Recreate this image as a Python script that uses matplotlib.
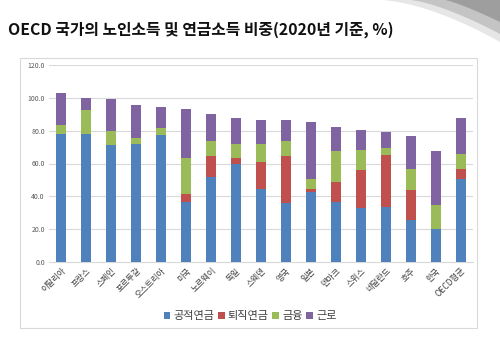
import matplotlib
matplotlib.use("Agg")
import matplotlib.pyplot as plt
from matplotlib.patches import Rectangle, Polygon
import numpy as np

plt.rcParams['font.family'] = ['Noto Sans CJK KR', 'DejaVu Sans']

countries = ['이탈리아', '프랑스', '스페인', '포르투갈', '오스트리아', '미국', '노르웨이', '독일',
             '스웨덴', '영국', '일본', '덴마크', '스위스', '네덜란드', '호주', '한국', 'OECD평균']
public_pension = [78.0, 77.8, 71.1, 71.7, 77.6, 36.5, 52.0, 59.5, 44.5, 36.1, 42.8, 36.5, 32.9, 33.7, 25.4, 20.3, 50.4]
private_pension = [0.0, 0.0, 0.0, 0.0, 0.0, 5.1, 12.8, 4.1, 16.4, 28.3, 1.7, 12.4, 22.9, 31.5, 18.7, 0.0, 6.5]
capital = [5.2, 15.0, 8.5, 3.8, 4.2, 21.8, 8.9, 8.3, 11.0, 9.5, 6.3, 18.9, 12.6, 4.2, 12.5, 14.6, 8.7]
work = [19.5, 6.9, 19.5, 20.1, 12.4, 29.8, 16.3, 15.8, 14.4, 12.4, 34.3, 14.2, 12.2, 9.6, 20.2, 32.9, 22.3]
series_names = ['공적연금', '퇴직연금', '금융', '근로']
colors = ['#4F81BD', '#C0504D', '#9BBB59', '#8064A2']
yticks = [0, 20, 40, 60, 80, 100, 120]

fig = plt.figure(figsize=(5, 3.47), dpi=100)
W, H = 500, 347


def px(points):
    return [(px_ / W, 1 - py_ / H) for px_, py_ in points]


# decorative swoosh at top right
t = np.linspace(0, 1, 30)
outer_curve = [(380 + 120 * s, 42 * s ** 1.6) for s in t]
fig.patches.append(Polygon(px(outer_curve + [(500, 0)]), closed=True, transform=fig.transFigure,
                           facecolor='#E6E6E6', edgecolor='none', zorder=-20))
mid_curve = [(410 + 90 * s, 34 * s ** 1.4) for s in t]
fig.patches.append(Polygon(px(mid_curve + [(500, 0)]), closed=True, transform=fig.transFigure,
                           facecolor='#C4C4C4', edgecolor='none', zorder=-19))
inner_curve = [(445 + 55 * s, 22 * s ** 1.2) for s in t]
fig.patches.append(Polygon(px(inner_curve + [(500, 0)]), closed=True, transform=fig.transFigure,
                           facecolor='#9E9E9E', edgecolor='none', zorder=-18))

# chart frame
fig.patches.append(Rectangle((20 / W, 1 - 328 / H), 457 / W, 270 / H, transform=fig.transFigure,
                             facecolor='white', edgecolor='#D9D9D9', linewidth=0.8, zorder=-10))

fig.text(8 / W, 1 - 30 / H, 'OECD 국가의 노인소득 및 연금소득 비중(2020년 기준, %)',
         fontsize=11.4, fontweight='bold', va='center', ha='left', color='#111111')

ax = fig.add_axes([49 / W, 1 - 262 / H, 424 / W, 197 / H])
ax.set_zorder(5)
x = np.arange(len(countries))
bottom = np.zeros(len(countries))
for name, vals, c in zip(series_names, [public_pension, private_pension, capital, work], colors):
    v = np.array(vals)
    ax.bar(x, v, 0.4, bottom=bottom, color=c, label=name, zorder=3)
    bottom += v

ax.set_xlim(-0.5, len(countries) - 0.5)
ax.set_ylim(0, 120)
ax.set_yticks(yticks)
ax.set_yticklabels([f'{t:.1f}' for t in yticks], fontsize=5, color='#595959')
ax.yaxis.grid(True, color='#D9D9D9', linewidth=0.8, zorder=0)
ax.set_xticks(x)
ax.set_xticklabels(countries, rotation=45, ha='right', rotation_mode='anchor', fontsize=6, color='#404040')
ax.tick_params(axis='both', length=0, pad=3)
for s in ['top', 'right', 'left']:
    ax.spines[s].set_visible(False)
ax.spines['bottom'].set_color('#D9D9D9')
ax.set_facecolor('none')

leg = fig.legend(loc='center', bbox_to_anchor=(250 / W, 1 - 316 / H), ncol=4, frameon=False,
                 fontsize=8, handlelength=0.6, handleheight=0.6, handletextpad=0.3,
                 columnspacing=0.3, labelcolor='#404040')

fig.savefig('out.png', dpi=100)
